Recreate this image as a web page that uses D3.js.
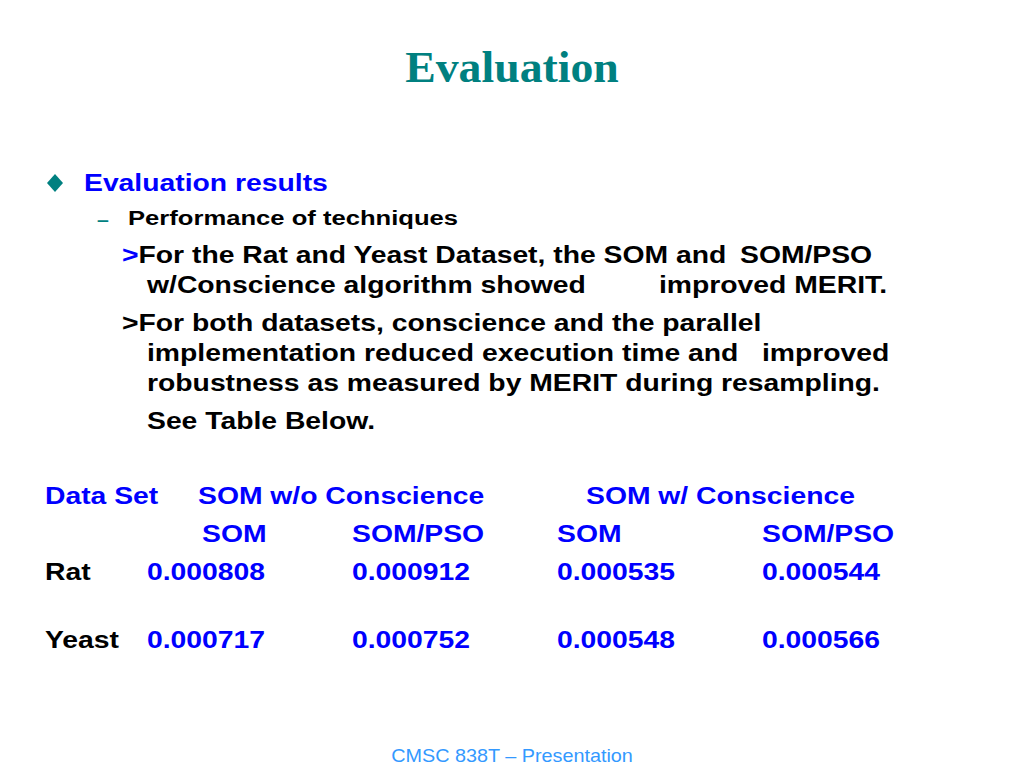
<!DOCTYPE html>
<html><head><meta charset="utf-8">
<script src="https://cdn.jsdelivr.net/npm/d3@7"></script>
<style>body{margin:0;background:#fff}</style>
</head><body>
<script>
// table data
const datasets = ["Rat", "Yeast"];
const groups = ["SOM w/o Conscience", "SOM w/ Conscience"];
const methods = ["SOM", "SOM/PSO", "SOM", "SOM/PSO"];
const ratValues = ["0.000808", "0.000912", "0.000535", "0.000544"];
const yeastValues = ["0.000717", "0.000752", "0.000548", "0.000566"];

const svg = d3.select("body").append("svg").attr("width", 1024).attr("height", 768);
const sans = "Liberation Sans, Arial, sans-serif";
const blue = "#0000ff", teal = "#008080";

// slide font is wider than Liberation Sans, so stretch horizontally
function txt(x, y, s, size, fill, opt) {
  opt = opt || {};
  const sx = opt.sx || 1.18;
  return svg.append("text")
    .attr("transform", "translate(" + x + "," + y + ") scale(" + sx + ",1)")
    .text(s)
    .attr("font-family", opt.family || sans).attr("font-size", size)
    .attr("font-weight", opt.weight || "bold").attr("fill", fill)
    .attr("text-anchor", opt.anchor || "start");
}

txt(512, 82, "Evaluation", 44, teal, {family: "Liberation Serif, serif", anchor: "middle", sx: 1.04});

// bullets
svg.append("path").attr("d", "M55,174 L63,183 L55,192 L47,183 Z").attr("fill", teal);
txt(97, 226, "–", 18, teal);

txt(84, 191, "Evaluation results", 24, blue);
txt(128, 225, "Performance of techniques", 21, "#000", {sx: 1.22});

const t1 = txt(122, 263, "", 24, "#000");
t1.append("tspan").attr("fill", blue).text(">");
t1.append("tspan").text("For the Rat and Yeast Dataset, the SOM and");
txt(740, 263, "SOM/PSO", 24, "#000");
txt(147, 293, "w/Conscience algorithm showed", 24, "#000");
txt(659, 293, "improved MERIT.", 24, "#000");
txt(122, 331, ">For both datasets, conscience and the parallel", 24, "#000");
txt(147, 361, "implementation reduced execution time and", 24, "#000");
txt(762, 361, "improved", 24, "#000");
txt(147, 391, "robustness as measured by MERIT during resampling.", 24, "#000");
txt(147, 429, "See Table Below.", 24, "#000");

// table
const x = d3.scalePoint().domain(d3.range(methods.length)).range([147, 762]);
const gx = d3.scalePoint().domain(groups).range([198, 586]);
const y = d3.scalePoint().domain(datasets).range([580, 648]);

txt(45, 504, "Data Set", 24, blue);
groups.forEach(g => txt(gx(g), 504, g, 24, blue));
methods.forEach((m, i) => txt(x(i) + (i === 0 ? 55 : 0), 542, m, 24, blue));

const rows = [ratValues, yeastValues];
datasets.forEach((d, r) => {
  txt(45, y(d), d, 24, "#000");
  rows[r].forEach((v, i) => txt(x(i), y(d), v, 24, blue));
});

txt(512, 762, "CMSC 838T – Presentation", 18, "#3399ff", {weight: "normal", anchor: "middle", sx: 1.1});
</script>
</body></html>
